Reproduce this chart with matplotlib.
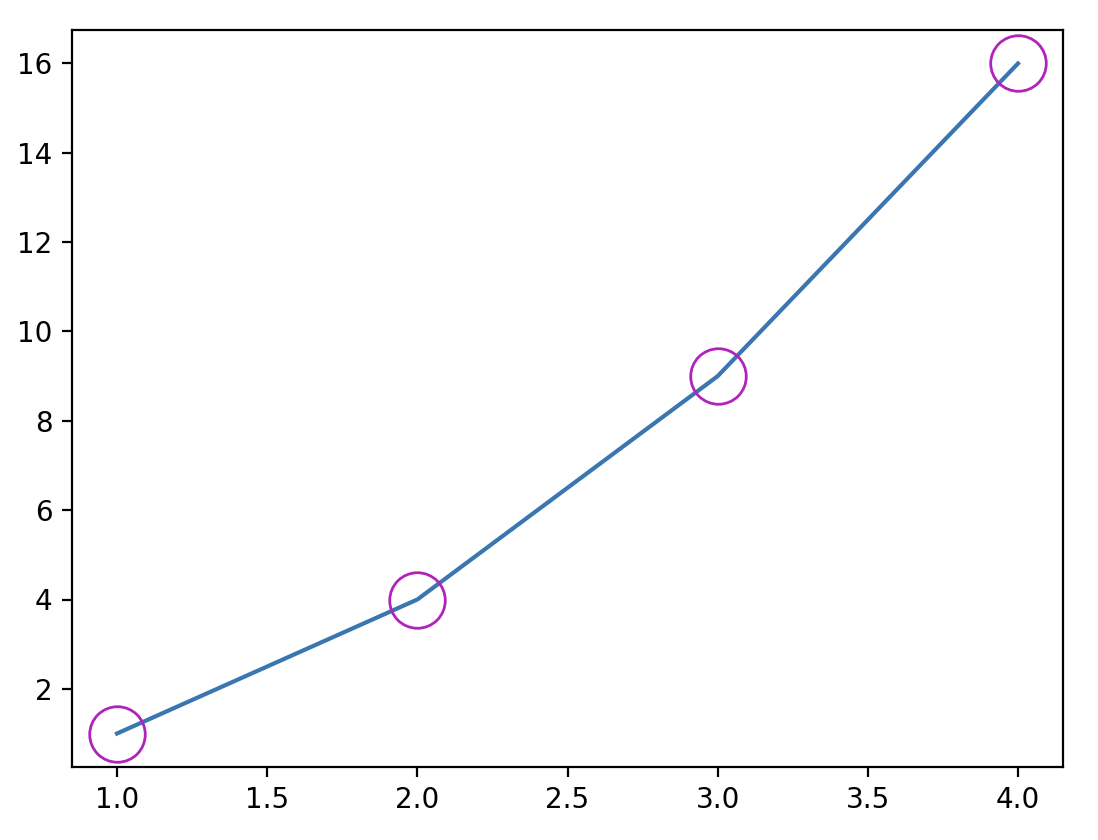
import matplotlib
matplotlib.use("Agg")
import matplotlib.pyplot as plt

x = [1, 2, 3, 4]
y = [1, 4, 9, 16]

W, H = 1098, 840
fig = plt.figure(figsize=(W / 200, H / 200), dpi=200)
ax = fig.add_axes([72 / W, 1 - 767 / H, (1063 - 72) / W, (767 - 30) / H])

ax.plot(x, y, color='#3a76b0', linewidth=1.5)
ax.plot(x, y, 'o', markersize=20, markerfacecolor='none',
        markeredgecolor='#b024bc', markeredgewidth=1.0)

fig.savefig('out.png', dpi=200)
